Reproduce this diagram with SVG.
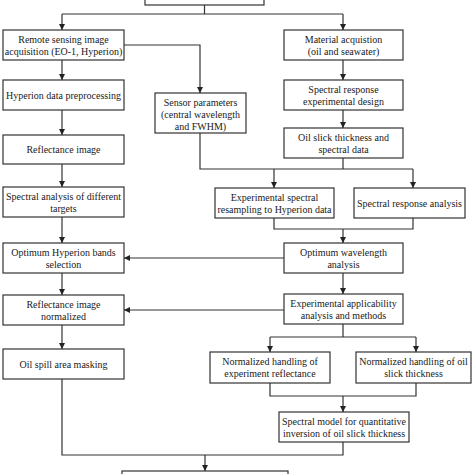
<svg xmlns="http://www.w3.org/2000/svg" width="474" height="474" viewBox="0 0 474 474">
<defs>
<marker id="ah" viewBox="0 0 10 10" refX="10" refY="5" markerWidth="6" markerHeight="6" orient="auto" markerUnits="userSpaceOnUse">
<path d="M0,0 L10,5 L0,10 z" fill="#222"/>
</marker>
<style>
.b{fill:#fff;stroke:#333;stroke-width:1.2}
.t{font-family:"Liberation Serif","Times New Roman",serif;font-size:10px;fill:#1a1a1a;text-anchor:middle}
.c{fill:none;stroke:#333;stroke-width:1.2}
.a{marker-end:url(#ah)}
</style>
</defs>
<rect width="474" height="474" fill="#fff"/>
<g id="connectors">
<path class="c" d="M204.5,5 V14 M62,14 H343"/>
<path class="c a" d="M62,14 V30"/>
<path class="c a" d="M343,14 V30"/>
<path class="c a" d="M124,45 H200 V93"/>
<path class="c a" d="M62,60 V80"/>
<path class="c a" d="M62,110 V135"/>
<path class="c a" d="M62,164 V187"/>
<path class="c a" d="M62,217 V243"/>
<path class="c a" d="M62,273 V295"/>
<path class="c a" d="M62,325 V349"/>
<path class="c a" d="M343,60 V80"/>
<path class="c a" d="M343,110 V128"/>
<path class="c" d="M200,133 V169 H413 M343,158 V169"/>
<path class="c a" d="M274,169 V188"/>
<path class="c a" d="M413,169 V188"/>
<path class="c" d="M274,218 V229 H413 V218"/>
<path class="c a" d="M343,229 V243"/>
<path class="c a" d="M284,258 H124"/>
<path class="c a" d="M343,273 V294"/>
<path class="c a" d="M284,310 H124"/>
<path class="c" d="M343,324 V337 M270,337 H416"/>
<path class="c a" d="M270,337 V352"/>
<path class="c a" d="M416,337 V352"/>
<path class="c" d="M270,383 V396 H416 V383"/>
<path class="c a" d="M343,396 V412"/>
<path class="c" d="M343,442 V455 H62 V379"/>
<path class="c a" d="M205,455 V471"/>
</g>
<g id="n_top"><rect class="b" x="145" y="-25" width="119" height="30"/></g>
<g id="n_remote"><rect class="b" x="3" y="30" width="121" height="30"/>
<text class="t" x="63.5" y="43">Remote sensing image</text>
<text class="t" x="63.5" y="55">acquisition (EO-1, Hyperion)</text></g>
<g id="n_pre"><rect class="b" x="3" y="80" width="121" height="30"/>
<text class="t" x="63.5" y="99">Hyperion data  preprocessing</text></g>
<g id="n_refl"><rect class="b" x="3" y="135" width="121" height="29"/>
<text class="t" x="63.5" y="153">Reflectance image</text></g>
<g id="n_spa"><rect class="b" x="3" y="187" width="121" height="30"/>
<text class="t" x="63.5" y="200">Spectral analysis of different</text>
<text class="t" x="63.5" y="212">targets</text></g>
<g id="n_opth"><rect class="b" x="3" y="243" width="121" height="30"/>
<text class="t" x="63.5" y="256">Optimum Hyperion bands</text>
<text class="t" x="63.5" y="268">selection</text></g>
<g id="n_rin"><rect class="b" x="3" y="295" width="121" height="30"/>
<text class="t" x="63.5" y="308">Reflectance image</text>
<text class="t" x="63.5" y="320">normalized</text></g>
<g id="n_mask"><rect class="b" x="3" y="349" width="121" height="30"/>
<text class="t" x="63.5" y="367.5">Oil spill area masking</text></g>
<g id="n_sensor"><rect class="b" x="155" y="93" width="91" height="40"/>
<text class="t" x="200.5" y="106">Sensor parameters</text>
<text class="t" x="200.5" y="118">(central wavelength</text>
<text class="t" x="200.5" y="130">and FWHM)</text></g>
<g id="n_mat"><rect class="b" x="284" y="30" width="119" height="30"/>
<text class="t" x="343.5" y="43">Material acquistion</text>
<text class="t" x="343.5" y="55">(oil and seawater)</text></g>
<g id="n_design"><rect class="b" x="284" y="80" width="119" height="30"/>
<text class="t" x="343.5" y="93">Spectral response</text>
<text class="t" x="343.5" y="105">experimental design</text></g>
<g id="n_oilthk"><rect class="b" x="284" y="128" width="119" height="30"/>
<text class="t" x="343.5" y="141">Oil slick thickness and</text>
<text class="t" x="343.5" y="153">spectral data</text></g>
<g id="n_resamp"><rect class="b" x="215" y="188" width="119" height="30"/>
<text class="t" x="274.5" y="201">Experimental spectral</text>
<text class="t" x="274.5" y="213">resampling to Hyperion data</text></g>
<g id="n_sra"><rect class="b" x="354" y="188" width="111" height="30"/>
<text class="t" x="409.5" y="206.5">Spectral response analysis</text></g>
<g id="n_optw"><rect class="b" x="284" y="243" width="119" height="30"/>
<text class="t" x="343.5" y="256">Optimum wavelength</text>
<text class="t" x="343.5" y="268">analysis</text></g>
<g id="n_app"><rect class="b" x="284" y="294" width="119" height="30"/>
<text class="t" x="343.5" y="307">Experimental applicability</text>
<text class="t" x="343.5" y="319">analysis and methods</text></g>
<g id="n_nr"><rect class="b" x="210" y="352" width="120" height="31"/>
<text class="t" x="270" y="365">Normalized handling of</text>
<text class="t" x="270" y="377">experiment reflectance</text></g>
<g id="n_nt"><rect class="b" x="356" y="352" width="115" height="31"/>
<text class="t" x="413.5" y="365">Normalized handling of  oil</text>
<text class="t" x="413.5" y="377">slick thickness</text></g>
<g id="n_model"><rect class="b" x="279" y="412" width="130" height="30"/>
<text class="t" x="344" y="425">Spectral model for quantitative</text>
<text class="t" x="344" y="437">inversion of oil slick thickness</text></g>
<g id="n_bottom"><rect class="b" x="122" y="471" width="166" height="30"/></g>
</svg>
